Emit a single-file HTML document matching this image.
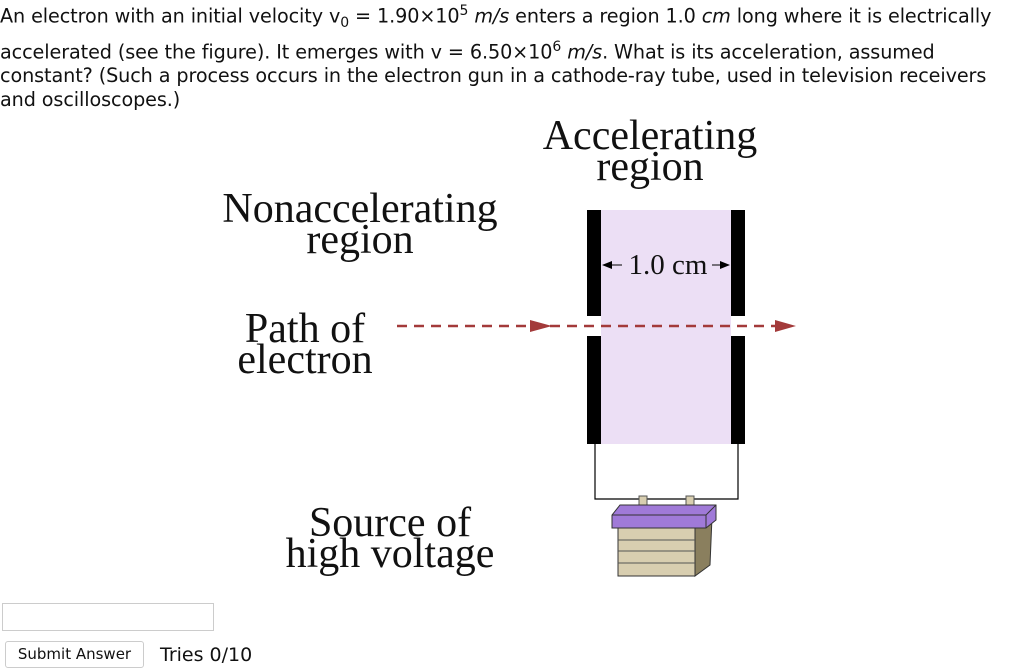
<!DOCTYPE html>
<html><head><style>
body{margin:0;width:1024px;height:669px;background:#fff;position:relative;overflow:hidden;font-family:"DejaVu Sans","Liberation Sans",sans-serif;}
.q{position:absolute;left:0;font-size:19.2px;color:#111;white-space:nowrap;letter-spacing:-0.1px}
.s{position:absolute;font-family:"Liberation Serif",serif;font-size:42px;color:#111;text-align:center;line-height:31px;white-space:nowrap}
</style></head><body>
<div class="q" style="top:3px">An electron with an initial velocity v<sub style="font-size:14px">0</sub> = 1.90×10<sup style="font-size:14px">5</sup> <i>m/s</i> enters a region 1.0 <i>cm</i> long where it is electrically</div>
<div class="q" style="top:39px">accelerated (see the figure). It emerges with v = 6.50×10<sup style="font-size:14px">6</sup> <i>m/s</i>. What is its acceleration, assumed</div>
<div class="q" style="top:64px">constant? (Such a process occurs in the electron gun in a cathode-ray tube, used in television receivers</div>
<div class="q" style="top:88px">and oscilloscopes.)</div>

<div class="s" style="left:500px;top:121px;width:300px">Accelerating<br>region</div>
<div class="s" style="left:200px;top:194px;width:320px">Nonaccelerating<br>region</div>
<div class="s" style="left:205px;top:314px;width:200px">Path of<br>electron</div>
<div class="s" style="left:270px;top:508px;width:240px">Source of<br>high voltage</div>

<svg style="position:absolute;left:0;top:0" width="1024" height="669">
<rect x="601" y="210" width="130" height="234" fill="#ecdff5"/>
<rect x="587" y="210" width="14" height="106" fill="#000"/>
<rect x="587" y="336" width="14" height="108" fill="#000"/>
<rect x="731" y="210" width="14" height="106" fill="#000"/>
<rect x="731" y="336" width="14" height="108" fill="#000"/>
<text x="668" y="274" font-family="Liberation Serif" font-size="29" text-anchor="middle" fill="#111">1.0 cm</text>
<line x1="603" y1="265" x2="622" y2="265" stroke="#000"/><polygon points="602,265 612,261 612,269" fill="#000"/>
<line x1="712" y1="265" x2="729" y2="265" stroke="#000"/><polygon points="730,265 720,261 720,269" fill="#000"/>
<line x1="397" y1="326" x2="780" y2="326" stroke="#a33a3a" stroke-width="2.5" stroke-dasharray="10,7"/>
<polygon points="530,320 552,326 530,332" fill="#a33a3a"/>
<polygon points="775,320 796,326 775,332" fill="#a33a3a"/>
<polyline points="595,444 595,499 738,499 738,444" fill="none" stroke="#000" stroke-width="1.2"/>
<rect x="639" y="496" width="8" height="12" fill="#d8ceb0" stroke="#555"/>
<rect x="686" y="496" width="8" height="12" fill="#d8ceb0" stroke="#555"/>
<polygon points="695,528 712,517 710,565 695,576" fill="#8a7f5e" stroke="#333"/>
<rect x="618" y="528" width="77" height="48" fill="#d8ceb0" stroke="#333"/>
<line x1="618" y1="540" x2="695" y2="540" stroke="#555"/><line x1="618" y1="551" x2="695" y2="551" stroke="#555"/><line x1="618" y1="563" x2="695" y2="563" stroke="#555"/>
<polygon points="612,515 620,505 716,505 716,520 706,528 612,528" fill="#a07ad8" stroke="#333"/>
<line x1="612" y1="515" x2="706" y2="515" stroke="#333"/><line x1="706" y1="515" x2="716" y2="505" stroke="#333"/><line x1="706" y1="515" x2="706" y2="528" stroke="#333"/>
</svg>

<div style="position:absolute;left:2px;top:603px;width:210px;height:26px;border:1px solid #ccc"></div>
<div style="position:absolute;left:5px;top:641px;width:137px;height:25px;border:1px solid #ccc;border-radius:3px;font-size:15px;line-height:25px;text-align:center;color:#111">Submit Answer</div>
<div style="position:absolute;left:160px;top:644px;font-size:19px;color:#111">Tries 0/10</div>
</body></html>
